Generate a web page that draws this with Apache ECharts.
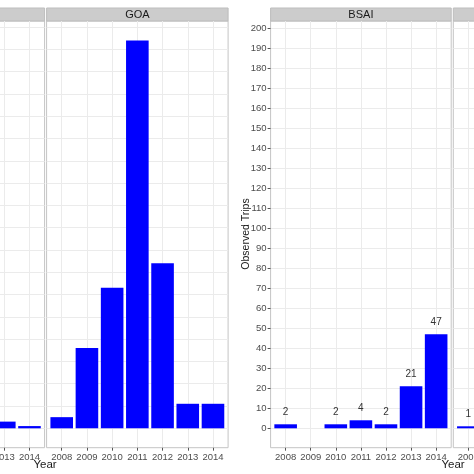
<!DOCTYPE html>
<html>
<head>
<meta charset="utf-8">
<script src="https://cdn.jsdelivr.net/npm/echarts@6/dist/echarts.min.js"></script>
<style>html,body{margin:0;padding:0;background:#fff}#c{width:474px;height:474px}</style>
</head>
<body>
<div id="c"></div>
<script>
// ---- data ----
var years = ['2008','2009','2010','2011','2012','2013','2014'];
var leftPanelTrips  = [null, null, null, null, null, 3, 1];   // left facet (title cut off)
var goaTrips        = [5, 36, 63, 174, 74, 11, 11];
var bsaiTrips       = [2, null, 2, 4, 2, 21, 47];
var rightPanelTrips = [1, null, null, null, null, null, null]; // right facet (cut off)
var panelTitles = ['', 'GOA', 'BSAI', ''];
var yTicksLeft  = [0,10,20,30,40,50,60,70,80,90,100,110,120,130,140,150,160,170,180];
var yTicksRight = [0,10,20,30,40,50,60,70,80,90,100,110,120,130,140,150,160,170,180,190,200];
var leftYRange  = [-8.7, 182.7];
var rightYRange = [-9.7, 203.6];
var xTickPos = [0,1,2,3,4,5,6];

var chart = echarts.init(document.getElementById('c'), null, {renderer: 'canvas'});

var panels = [
  {left: -136.8, width: 181.4, data: leftPanelTrips,  yr: leftYRange,  yt: yTicksLeft,  yLab: true,  lab: false},
  {left: 46.6,   width: 181.5, data: goaTrips,        yr: leftYRange,  yt: yTicksLeft,  yLab: false, lab: false},
  {left: 270.6,  width: 180.6, data: bsaiTrips,       yr: rightYRange, yt: yTicksRight, yLab: true,  lab: true},
  {left: 453.3,  width: 180.6, data: rightPanelTrips, yr: rightYRange, yt: yTicksRight, yLab: false, lab: true}
];
var TOP = 21, H = 426.7;
var FONT = 'Liberation Sans, Arial, sans-serif';
var grid = [], xAxis = [], yAxis = [], series = [], graphics = [];
panels.forEach(function (p, i) {
  grid.push({left: p.left, top: TOP, width: p.width, height: H, show: true,
    outerBoundsMode: 'none', containLabel: false,
    borderColor: '#c4c4c4', borderWidth: 1, backgroundColor: 'transparent'});
  xAxis.push({type: 'value', gridIndex: i, min: -0.6, max: 6.6, splitNumber: 7, position: 'bottom',
    axisLine: {show: false, onZero: false},
    axisTick: {show: true, length: 3, lineStyle: {color: '#555'}, customValues: xTickPos},
    axisLabel: {show: true, fontSize: 9.5, color: '#4d4d4d', margin: 5, fontFamily: FONT,
      customValues: xTickPos,
      formatter: function (v) { var r = Math.round(v); return (Math.abs(v - r) < 1e-6 && r >= 0 && r <= 6) ? years[r] : ''; }},
    splitLine: {show: true, lineStyle: {color: '#ebebeb', width: 1}}
  });
  yAxis.push({type: 'value', gridIndex: i, min: p.yr[0], max: p.yr[1], splitNumber: 21, position: 'left',
    axisLine: {show: false, onZero: false},
    axisTick: {show: p.yLab, length: 3, lineStyle: {color: '#555'}, customValues: p.yt},
    axisLabel: {show: p.yLab, fontSize: 9.5, color: '#4d4d4d', margin: 4, fontFamily: FONT,
      customValues: p.yt,
      formatter: function (v) { return String(v); }},
    splitLine: {show: true, lineStyle: {color: '#ebebeb', width: 1}}
  });
  series.push({type: 'bar', xAxisIndex: i, yAxisIndex: i, barWidth: 22.6,
    data: p.data.map(function (v, k) { return [k, v]; }),
    itemStyle: {color: '#0000ff'},
    label: {show: p.lab, position: 'top', distance: 7, fontSize: 10, color: '#333',
      fontFamily: FONT, formatter: function (d) { return d.value[1]; }},
    silent: true, animation: false
  });
  graphics.push({type: 'rect', shape: {x: p.left, y: 8, width: p.width, height: 13},
    style: {fill: '#cccccc', stroke: '#bdbdbd', lineWidth: 1}});
  if (panelTitles[i]) {
    graphics.push({type: 'text', x: p.left + p.width / 2, y: 15,
      style: {text: panelTitles[i], textAlign: 'center', textVerticalAlign: 'middle',
        fontSize: 11, fill: '#1a1a1a', fontFamily: FONT}});
  }
});
graphics.push({type: 'text', x: 45, y: 465, style: {text: 'Year', textAlign: 'center', textVerticalAlign: 'middle', fontSize: 11.5, fill: '#1a1a1a', fontFamily: FONT}});
graphics.push({type: 'text', x: 453, y: 465, style: {text: 'Year', textAlign: 'center', textVerticalAlign: 'middle', fontSize: 11.5, fill: '#1a1a1a', fontFamily: FONT}});
graphics.push({type: 'text', x: 246.5, y: 234, rotation: Math.PI / 2,
  style: {text: 'Observed Trips', textAlign: 'center', textVerticalAlign: 'middle', fontSize: 10.5, fill: '#1a1a1a', fontFamily: FONT}});

chart.setOption({
  animation: false,
  grid: grid, xAxis: xAxis, yAxis: yAxis, series: series,
  graphic: graphics
});
</script>
</body>
</html>
